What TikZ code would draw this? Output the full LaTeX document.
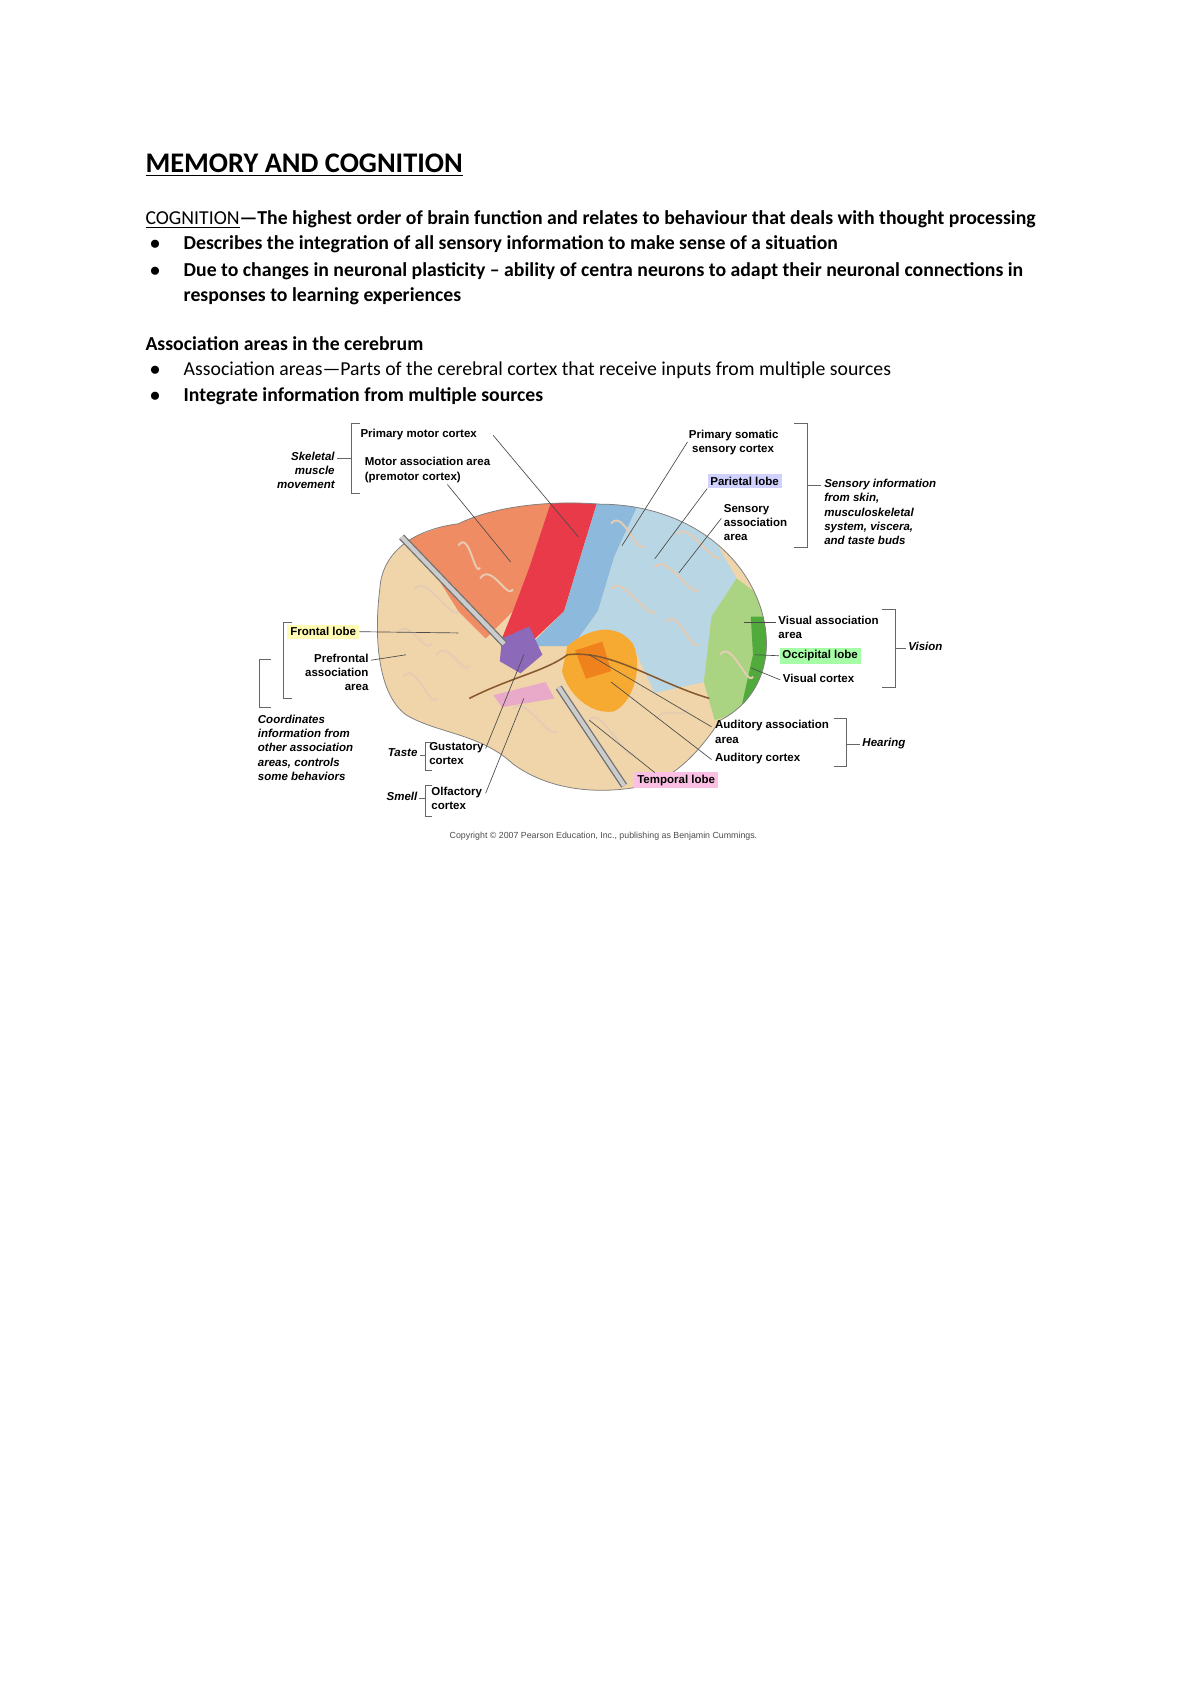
\documentclass[tikz,border=0pt]{standalone}
\usepackage{fontspec}
\setmainfont{Carlito}
\newfontfamily\arialf{Liberation Sans}
\newcommand{\myul}[1]{\underline{#1}}
\definecolor{tanC}{RGB}{240,212,170}
\definecolor{motC}{RGB}{240,140,100}
\definecolor{redC}{RGB}{232,58,72}
\definecolor{ssC}{RGB}{140,185,220}
\definecolor{saC}{RGB}{185,214,228}
\definecolor{vaC}{RGB}{170,212,130}
\definecolor{vcC}{RGB}{80,170,60}
\definecolor{auC}{RGB}{247,170,50}
\definecolor{acC}{RGB}{240,130,30}
\definecolor{guC}{RGB}{140,105,185}
\definecolor{olC}{RGB}{232,170,200}
\begin{document}
\begin{tikzpicture}[x=0.02cm,y=-0.02cm]
\useasboundingbox[fill=white] (0,0) rectangle (1100,1556);
\tikzset{
 body/.style={anchor=base west,inner sep=0pt,font=\fontsize{10.3}{12}\selectfont\bfseries},
 lab/.style={anchor=north west,inner sep=0pt,align=left,font=\arialf\fontsize{6}{7.4}\selectfont\bfseries},
 labr/.style={anchor=north east,inner sep=0pt,align=right,font=\arialf\fontsize{6}{7.4}\selectfont\bfseries\itshape},
 labi/.style={anchor=north west,inner sep=0pt,align=left,font=\arialf\fontsize{6}{7.4}\selectfont\bfseries\itshape},
 lead/.style={draw=black!70,line width=0.35pt},
 brk/.style={draw=black!60,line width=0.35pt},
 bul/.style={anchor=base west,inner sep=0pt,font=\fontsize{11}{12}\selectfont}
}
% text
\node[anchor=base west,inner sep=0pt,font=\fontsize{14.8}{16}\selectfont\bfseries] (title) at (133,158) {\myul{MEMORY AND COGNITION}};
\node[body] (l1) at (133,206) {\mdseries\myul{COGNITION}\bfseries---The highest order of brain function and relates to behaviour that deals with thought processing};
\node[bul] (b1) at (137,229) {$\bullet$};
\node[body] (l2) at (168,229) {Describes the integration of all sensory information to make sense of a situation};
\node[bul] (b2) at (137,253) {$\bullet$};
\node[body] (l3) at (168,253) {Due to changes in neuronal plasticity -- ability of centra neurons to adapt their neuronal connections in};
\node[body] (l4) at (168,276) {responses to learning experiences};
\node[body] (h2) at (133,321) {Association areas in the cerebrum};
\node[bul] (b3) at (137,344) {$\bullet$};
\node[body] (l5) at (168,344) {\mdseries Association areas---Parts of the cerebral cortex that receive inputs from multiple sources};
\node[bul] (b4) at (137,368) {$\bullet$};
\node[body] (l6) at (168,368) {Integrate information from multiple sources};

% brain
\def\brainpath{(348,540) .. controls (350,505) and (380,485) .. (420,480) .. controls (450,465) and (500,458) .. (550,462) .. controls (620,462) and (680,500) .. (698,560) .. controls (712,610) and (690,645) .. (660,660) .. controls (640,690) and (615,718) .. (580,722) .. controls (540,728) and (500,722) .. (470,700) .. controls (440,672) and (400,672) .. (372,655) .. controls (345,635) and (343,580) .. (348,540) -- cycle}
\begin{scope}
\path[clip] \brainpath;
\fill[tanC] (300,430) rectangle (750,760);
\fill[motC] (370,495) -- (470,460) -- (505,462) -- (485,520) -- (470,560) -- (445,585) -- (420,560) -- (395,520) -- cycle;
\fill[redC] (505,460) -- (548,458) -- (532,510) -- (517,560) -- (485,590) -- (460,585) -- (470,560) -- (485,520) -- cycle;
\fill[ssC] (548,458) -- (585,462) -- (563,510) -- (548,560) -- (525,592) -- (485,592) -- (517,560) -- (532,510) -- cycle;
\fill[saC] (585,462) -- (645,478) -- (675,530) -- (652,565) -- (645,625) -- (600,635) -- (580,592) -- (525,592) -- (548,560) -- (563,510) -- cycle;
\fill[vaC] (675,530) -- (715,560) -- (715,640) -- (655,660) -- (645,625) -- (652,565) -- cycle;
\fill[vcC] (688,565) -- (715,565) -- (715,640) -- (680,645) -- (690,600) -- cycle;
\fill[auC] (520,592) .. controls (540,575) and (565,570) .. (580,590) .. controls (590,610) and (580,645) .. (562,652) .. controls (540,655) and (520,635) .. (515,615) -- cycle;
\fill[acC] (527,596) -- (552,588) -- (560,615) -- (537,622) -- cycle;
\fill[guC] (460,585) -- (485,574) -- (497,600) -- (477,617) -- (458,606) -- cycle;
\fill[olC] (452,637) -- (500,625) -- (508,640) -- (460,648) -- cycle;
\foreach \a/\b/\c/\d in {380/540/420/560, 400/600/430/610, 365/580/395/590, 420/500/440/520, 560/480/590/500, 600/520/640/540, 610/570/640/590, 540/660/580/690, 470/650/510/670, 600/660/630/650, 440/530/470/540, 560/540/600/560, 370/620/400/640, 620/490/660/510, 660/600/690/620}
 \draw[white!60!brown,line width=1pt] (\a,\b) .. controls (\a+10,\b-15) and (\c-5,\d+10) .. (\c,\d);
\draw[brown!70!black,line width=0.8pt] (430,640) .. controls (470,620) and (500,615) .. (520,600) .. controls (560,595) and (600,625) .. (650,640);
\end{scope}
\draw[black!50,line width=0.4pt] \brainpath;
\draw[black!55,line width=3.6pt] (368,492) -- (462,590);
\draw[gray!40,line width=2.2pt] (368,492) -- (462,590);
\draw[black!55,line width=3.6pt] (512,630) -- (572,720);
\draw[gray!40,line width=2.2pt] (512,630) -- (572,720);

% labels
\node[lab] (pmc) at (330,393) {Primary motor cortex};
\node[lab] (mas) at (334,419) {Motor association area\\(premotor cortex)};
\node[labr] (skm) at (307,414) {Skeletal\\muscle\\movement};
\draw[brk] (330,388) -- (322,388) -- (322,452) -- (330,452);
\draw[brk] (322,420) -- (309,420);
\node[lab] (pss) at (631,394) {Primary somatic\\\ sensory cortex};
\node[lab,fill=blue!18,inner sep=1.5pt] (par) at (648,434) {Parietal lobe};
\node[lab] (sas) at (663,462) {Sensory\\association\\area};
\draw[brk] (728,388) -- (740,388) -- (740,502) -- (728,502);
\draw[brk] (740,445) -- (752,445);
\node[labi] (sinfo) at (755,439) {Sensory information\\from skin,\\musculoskeletal\\system, viscera,\\and taste buds};
\node[lab,fill=yellow!30,inner sep=1.5pt] (fl) at (263,572) {Frontal lobe};
\node[lab,anchor=north east,align=right] (pfa) at (338,599) {Prefrontal\\association\\area};
\draw[brk] (268,570) -- (260,570) -- (260,640) -- (268,640);
\draw[brk] (248,604) -- (238,604) -- (238,648) -- (248,648);
\node[labi] (coord) at (236,655) {Coordinates\\information from\\other association\\areas, controls\\some behaviors};
\node[lab] (vas) at (713,564) {Visual association\\area};
\node[lab,fill=green!35,inner sep=1.5pt] (occ) at (714,593) {Occipital lobe};
\node[lab] (vcx) at (717,617) {Visual cortex};
\draw[brk] (808,558) -- (820,558) -- (820,630) -- (808,630);
\draw[brk] (820,594) -- (830,594);
\node[labi] (vis) at (832,588) {Vision};
\node[lab] (aas) at (655,660) {Auditory association\\area};
\node[lab] (acx) at (655,690) {Auditory cortex};
\draw[brk] (764,658) -- (776,658) -- (776,702) -- (764,702);
\draw[brk] (776,682) -- (788,682);
\node[labi] (hear) at (790,676) {Hearing};
\node[lab,fill=magenta!25,inner sep=1.5pt] (tl) at (581,707) {Temporal lobe};
\node[labi] (taste) at (355,686) {Taste};
\node[lab] (gus) at (393,680) {Gustatory\\cortex};
\draw[brk] (396,680) -- (390,680) -- (390,706) -- (396,706);
\draw[brk] (385,692) -- (390,692);
\node[labi] (smell) at (354,726) {Smell};
\node[lab] (olf) at (395,721) {Olfactory\\cortex};
\draw[brk] (396,720) -- (390,720) -- (390,748) -- (396,748);
\draw[brk] (384,732) -- (390,732);
\node[inner sep=0pt,font=\arialf\fontsize{4.6}{5}\selectfont,text=black!70] (copy) at (553,766) {Copyright \textcopyright{} 2007 Pearson Education, Inc., publishing as Benjamin Cummings.};

% leader targets
\coordinate (tpmc) at (530,492); \coordinate (tmas) at (468,515);
\coordinate (tpss) at (570,500); \coordinate (tpar) at (600,512);
\coordinate (tsas) at (622,525); \coordinate (tfl) at (420,580);
\coordinate (tpfa) at (372,600); \coordinate (tvas) at (682,570);
\coordinate (tocc) at (692,600); \coordinate (tvcx) at (688,612);
\coordinate (taas) at (540,600); \coordinate (tacx) at (560,625);
\coordinate (ttl) at (540,660); \coordinate (tgus) at (480,600);
\coordinate (tolf) at (480,640);
\draw[lead] (452,399) -- (tpmc);
\draw[lead] (410,444) -- (tmas);
\draw[lead] (630,405) -- (tpss);
\draw[lead] (par.south west) -- (tpar);
\draw[lead] (661,475) -- (tsas);
\draw[lead] (fl.east) -- (tfl);
\draw[lead] (340,605) -- (tpfa);
\draw[lead] (711,570) -- (tvas);
\draw[lead] (occ.west) -- (tocc);
\draw[lead] (715,623) -- (tvcx);
\draw[lead] (652,666) -- (taas);
\draw[lead] (652,696) -- (tacx);
\draw[lead] (600,708) -- (ttl);
\draw[lead] (445,686) -- (tgus);
\draw[lead] (445,727) -- (tolf);
\end{tikzpicture}
\end{document}
